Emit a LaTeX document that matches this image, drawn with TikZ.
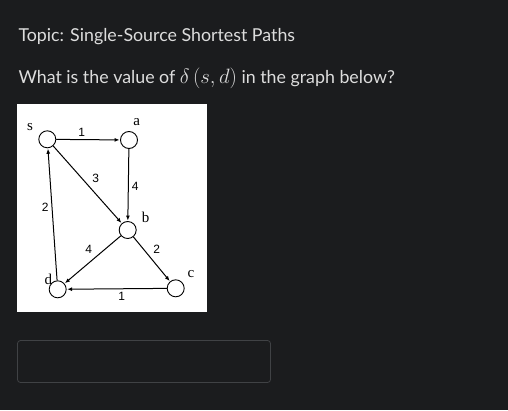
\documentclass[tikz,border=0pt]{standalone}
\usepackage{amsmath}
\usepackage{fontspec}
\setmainfont{Lato}
\newfontfamily\arialfont{Liberation Sans}
\newfontfamily\timesfont{Liberation Serif}
\usetikzlibrary{arrows.meta,positioning}
\definecolor{pagebg}{RGB}{27,28,30}
\definecolor{pagetext}{RGB}{221,221,221}
\definecolor{boxline}{RGB}{64,66,69}
\tikzset{
graph/.style={>={Latex[length=5pt,width=4pt]},shorten >=0.5pt,
line width=1pt},
vertex/.style={circle,draw,fill=white,minimum size=17pt,inner sep=0pt,line width=0.9pt},
weight/.style={font=\arialfont\fontsize{12}{14}\selectfont,inner sep=3pt},
vlabel/.style={font=\timesfont\fontsize{15}{17}\selectfont,inner sep=0pt},
}

\begin{document}
\begin{tikzpicture}[x=1pt,y=-1pt,graph]
                    \fill[pagebg] (0,0) rectangle (508,410);
                    \useasboundingbox (0,0) rectangle (508,410);
                    \node[anchor=base west,text=pagetext,inner sep=0pt,font=\fontsize{17.8}{21}\selectfont] (topic) at (18,41) {Topic: Single-Source Shortest Paths};
                    \node[anchor=base west,text=pagetext,inner sep=0pt,font=\fontsize{17.8}{21}\selectfont] (question) at (18,83) {What is the value of {\fontsize{21}{24}\selectfont$\delta\left(s,d\right)$} in the graph below?};
                    \fill[white] (17,104) rectangle (207,312);

                    \node[vertex] (s) at (47.3,139.3) {};
                    \node[vertex] (a) at (129,140) {};
                    \node[vertex] (b) at (127.7,230) {};
                    \node[vertex] (d) at (57.7,289.3) {};
                    \node[vertex] (c) at (175.7,288.3) {};

                    \node[vlabel] (ls) at (30,127.5) {s};
                    \node[vlabel] (la) at (136.7,122) {a};
                    \node[vlabel] (lb) at (145.7,217.5) {b};
                    \node[vlabel] (ld) at (48.3,279) {d};
                    \node[vlabel] (lc) at (191,274.5) {c};

                    \path[->] (s) edge node[weight,above,pos=0.4] {1} (a);
                    \path[->] (a) edge node[weight,right,pos=0.52] {4} (b);
                    \path[->] (s) edge node[weight,above right,pos=0.52] {3} (b);
                    \path[->] (b) edge node[weight,above left,pos=0.45] {4} (d);
                    \path[->] (b) edge node[weight,above right,pos=0.45] {2} (c);
                    \path[->] (c) edge node[weight,below,pos=0.45] {1} (d);
                    \path[->] (d) edge node[weight,left,pos=0.55] {2} (s);

                    \draw[boxline,rounded corners=3pt,line width=0.8pt] (17.5,340.5) rectangle (270.5,382.5);

                \end{tikzpicture}
\end{document}
